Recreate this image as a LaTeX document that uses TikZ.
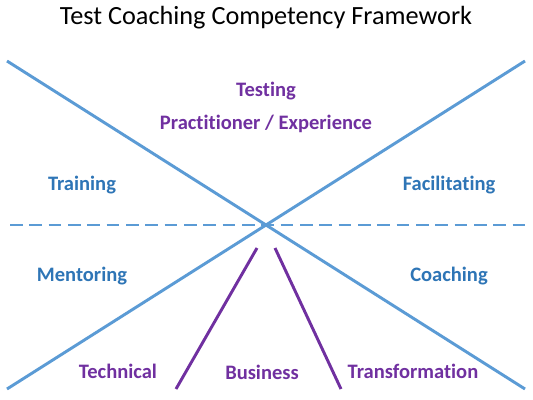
\documentclass[tikz,border=0pt]{standalone}
\usepackage{fontspec}
\setmainfont{Carlito}[Ligatures=NoCommon]
\definecolor{lineblue}{HTML}{5B9BD5}
\definecolor{textblue}{HTML}{2E75B6}
\definecolor{vpurple}{HTML}{7030A0}
\begin{document}
\begin{tikzpicture}[x=0.75pt,y=-0.75pt,
  bluel/.style={draw=lineblue,line width=2.2pt},
  purpl/.style={draw=vpurple,line width=2.2pt},
  bluet/.style={text=textblue,font=\fontsize{15.4}{18}\selectfont\bfseries,inner sep=0pt},
  purpt/.style={text=vpurple,font=\fontsize{15.4}{18}\selectfont\bfseries,inner sep=0pt}]
\useasboundingbox (0,0) rectangle (533,400);
\node[font=\fontsize{19.7}{24}\selectfont,inner sep=0pt] (title) at (266,18) {Test Coaching Competency Framework};
\coordinate (tl) at (7,61);
\coordinate (br) at (525,389);
\coordinate (tr) at (525,61);
\coordinate (bl) at (7,389);
\coordinate (dl) at (10,225);
\coordinate (dr) at (530,225);
\coordinate (p1t) at (257,248);
\coordinate (p1b) at (176,389);
\coordinate (p2t) at (275,248);
\coordinate (p2b) at (341,389);
\draw[bluel] (tl) -- (br);
\draw[bluel] (tr) -- (bl);
\draw[bluel,dash pattern=on 9.5pt off 5pt] (dl) -- (dr);
\draw[purpl] (p1t) -- (p1b);
\draw[purpl] (p2t) -- (p2b);
\node[purpt] (testing) at (266,91) {Testing};
\node[purpt] (pract) at (266,124) {Practitioner / Experience};
\node[bluet] (training) at (82,185) {Training};
\node[bluet] (facil) at (449,185) {Facilitating};
\node[bluet] (mentor) at (82,276) {Mentoring};
\node[bluet] (coach) at (449,276) {Coaching};
\node[purpt] (tech) at (118,371) {Technical};
\node[purpt] (bus) at (262,372) {Business};
\node[purpt] (trans) at (413,371) {Transformation};
\end{tikzpicture}
\end{document}
